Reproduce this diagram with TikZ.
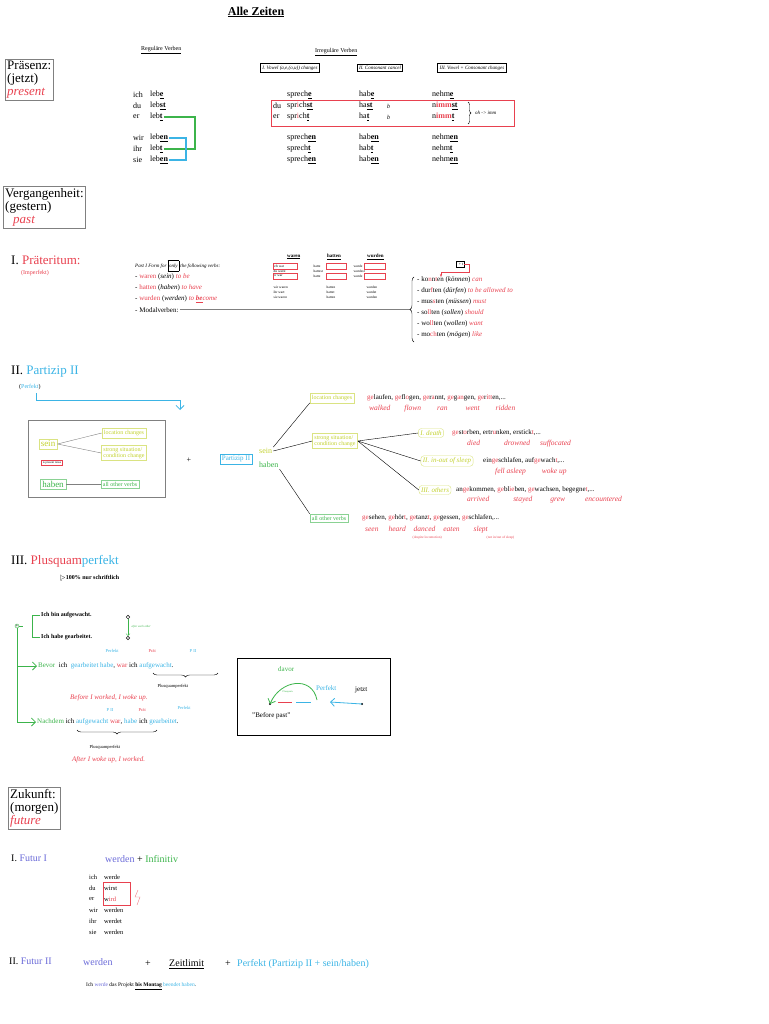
\documentclass[tikz,border=0pt]{standalone}
\usepackage{fontspec}
\setmainfont{Liberation Serif}
\usetikzlibrary{positioning,decorations.pathreplacing,arrows.meta}
\definecolor{rd}{HTML}{E8414F}
\definecolor{bl}{HTML}{3BB4E5}
\definecolor{gr}{HTML}{3CB44B}
\definecolor{lm}{HTML}{C2D12E}
\definecolor{pu}{HTML}{6A6AD8}
\newcommand{\ue}[1]{\underline{\textbf{#1}}}
\newcommand{\fs}[1]{\fontsize{#1}{#1}\selectfont}
\tikzset{
  t/.style={anchor=west, inner sep=1pt, font=\fs{8}},
  s/.style={anchor=west, inner sep=1pt, font=\fs{6}},
  ti/.style={anchor=west, inner sep=.5pt, font=\fs{3.5}},
  big/.style={anchor=west, inner sep=1pt, font=\fs{13}, align=left},
  kbox/.style={draw, line width=1pt, inner sep=2pt, font=\fs{5}\itshape},
  cbox/.style={draw, inner sep=2pt, font=\fs{6}, align=left},
  tr/.style={anchor=west, inner sep=1pt, font=\fs{7.5}\itshape, text=rd}
}
\begin{document}
\begin{tikzpicture}[x=1pt,y=-1pt]
\useasboundingbox (0,0) rectangle (768,1024);
% Title
\node[font=\fs{12}\bfseries] (title) at (256,12) {\underline{Alle Zeiten}};
% Praesenz
\node[draw=gray, big, inner sep=2pt] (praes) at (5,80) {Präsenz:\\(jetzt)\\ \textcolor{rd}{\itshape present}};
\node[s] (reg) at (140,50) {\underline{Reguläre Verben}};
\node[s] (irreg) at (314,52) {\underline{Irreguläre Verben}};
\node[kbox] (k1) at (290,68) {I. Vowel (a,e,(o,u)) changes};
\node[kbox] (k2) at (380,68) {II. Consonant cancel};
\node[kbox] (k3) at (472,68) {III. Vowel + Consonant changes};
\foreach \p/\v/\y in {ich/leb\ue{e}/95, du/leb\ue{st}/106, er/leb\ue{t}/117, wir/leb\ue{en}/138, ihr/leb\ue{t}/149, sie/leb\ue{en}/160}{
  \node[t] at (132,\y) {\p};
  \node[t] (r\p) at (149,\y) {\v};
}
\draw[gr, line width=1.2pt] (rer.east) -- (195,117) -- (195,149) -- (rihr.east);
\draw[bl, line width=1.2pt] (rwir.east) -- (186,138) -- (186,160) -- (rsie.east);
\foreach \a/\b/\c/\y/\n in {sprech\ue{e}/hab\ue{e}/nehm\ue{e}/95/1,
  spr\textcolor{rd}{i}ch\ue{st}/ha\ue{st}/n\textcolor{rd}{\textbf{imm}}\ue{st}/106/2,
  spr\textcolor{rd}{i}ch\ue{t}/ha\ue{t}/n\textcolor{rd}{\textbf{imm}}\ue{t}/117/3,
  sprech\ue{en}/hab\ue{en}/nehm\ue{en}/138/4, sprech\ue{t}/hab\ue{t}/nehm\ue{t}/149/5,
  sprech\ue{en}/hab\ue{en}/nehm\ue{en}/160/6}{
  \node[t] (ia\n) at (286,\y) {\a};
  \node[t] (ib\n) at (358,\y) {\b};
  \node[t] (ic\n) at (431,\y) {\c};
}
\node[t] (du) at (272,106) {du};
\node[t] (er) at (272,117) {er};
\node[s, font=\fs{6}\itshape] at (386,106) {b};
\node[s, font=\fs{6}\itshape] at (386,117) {b};
\draw[rd, thick] (271,100) rectangle (514,126);
\draw[decorate, decoration={brace, amplitude=3pt}] (468,102) -- (468,124);
\node[s, font=\fs{5}\itshape] (imm) at (474,113) {oh -> imm};
% Vergangenheit
\node[draw=gray, big, inner sep=2pt] (verg) at (3,207) {Vergangenheit:\\(gestern)\\ \hspace{8pt}\textcolor{rd}{\itshape past}};
% Praeteritum
\node[big] (praet) at (10,260) {I. \textcolor{rd}{Präteritum:}};
\node[s, text=rd] (imp) at (20,273) {(Imperfekt)};
\node[s, font=\fs{5}\itshape] (only) at (134,266) {Past I Form for \fbox{\kern-2pt only\kern-2pt} the following verbs:};
\node[t, font=\fs{7}] (war) at (134,277) {- \textcolor{rd}{waren} (\textit{sein}) \textcolor{rd}{\itshape to be}};
\node[t, font=\fs{7}] (hat) at (134,288) {- \textcolor{rd}{hatten} (\textit{haben}) \textcolor{rd}{\itshape to have}};
\node[t, font=\fs{7}] (wur) at (134,299) {- \textcolor{rd}{wurden} (\textit{werden}) \textcolor{rd}{\itshape to \underline{\textbf{be}}come}};
\node[t, font=\fs{7}] (mod) at (134,310) {- Modalverben:};
\foreach \h/\x/\l in {waren/286/{ich war,du warst,er war}, hatten/326/{hatte,hattest,hatte}, wurden/366/{wurde,wurdest,wurde}}{
  \node[s, font=\fs{5}\bfseries] at (\x,257) {\underline{\h}};
  \foreach \w [count=\i] in \l { \node[ti] at (\x-13,261+5*\i) {\w}; }
}
\foreach \x/\l in {273/{wir waren,ihr wart,sie waren}, 326/{hatten,hattet,hatten}, 366/{wurden,wurdet,wurden}}{
  \foreach \w [count=\i] in \l { \node[ti] at (\x,282+5*\i) {\w}; }
}
\draw[rd] (273,263) rectangle (297,269) (273,273) rectangle (297,279);
\draw[rd] (326,263) rectangle (346,269) (326,273) rectangle (346,279);
\draw[rd] (364,263) rectangle (385,269) (364,273) rectangle (385,279);
\draw[gray, double] (mod.east) -- (410,310);
\draw[decorate, decoration={brace, amplitude=4pt}] (414,342) -- (414,277);
\foreach \a/\b/\c/\y in {ko\textcolor{rd}{n}n\textcolor{rd}{t}en/können/can/280, dur\textcolor{rd}{f}ten/dürfen/to be allowed to/291,
  mus\textcolor{rd}{s}ten/müssen/must/302, so\textcolor{rd}{ll}ten/sollen/should/313, wo\textcolor{rd}{ll}ten/wollen/want/324, mo\textcolor{rd}{ch}ten/mögen/like/335}{
  \node[t, font=\fs{7}] at (416,\y) {- \a\ (\textit{\b}) \textcolor{rd}{\itshape \c}};
}
\node[draw, inner sep=1pt, font=\fs{4}] (plt) at (460,264) {\textsuperscript{*}+ t};
\draw[rd, thick, -{Stealth[length=3pt]}] (plt.east) -- ++(5,0) -- ++(0,8) -- (441,272) -- (441,277);
% Partizip II
\node[big] (part) at (10,372) {II. \textcolor{bl}{Partizip II}};
\node[s] (perf) at (18,387) {(\textcolor{bl}{Perfekt})};
\draw[bl, thick, -{Straight Barb[length=4pt]}] (36,393) -- (36,400) -- (180,400) -- (180,410);
\draw[gray] (28,420) rectangle (165,497);
\node[cbox, draw=lm!60, text=lm, font=\fs{9}] (sein) at (48,444) {sein};
\node[cbox, draw=lm!60, text=lm] (lc1) at (124,433) {location changes};
\node[cbox, draw=lm!60, text=lm] (sc1) at (124,453) {strong situation/\\condition change};
\node[draw=rd, thick, inner sep=1pt, font=\fs{3}] (ipt) at (52,463) {is present tense};
\node[cbox, draw=gr!60, text=gr, font=\fs{9}] (hab1) at (53,484) {haben};
\node[cbox, draw=gr!60, text=gr] (ao1) at (120,484) {all other verbs};
\draw[gray] (sein.east) -- (lc1.west) (sein.east) -- (sc1.west);
\draw[gray] (hab1) -- (ao1);
\node[font=\fs{8}] (plus1) at (189,460) {+};
\node[cbox, draw=bl, thick, text=bl, font=\fs{7}] (p2) at (236,459) {Partizip II};
\node[t, text=lm] (sein2) at (258,451) {sein};
\node[t, text=gr] (hab2) at (258,465) {haben};
\node[cbox, draw=lm!60, text=lm] (lc2) at (332,398) {location changes};
\node[cbox, draw=lm!60, text=lm] (sc2) at (335,441) {strong situation/\\condition change};
\node[cbox, draw=gr!60, text=gr] (ao2) at (329,518) {all other verbs};
\draw (sein2.north east) -- (lc2.south west);
\draw (sein2.east) -- (sc2.west);
\draw (hab2.south east) -- (ao2.north west);
\node[cbox, draw=lm!60, text=lm, rounded corners=3pt, font=\fs{7}\itshape] (dth) at (431,433) {I. death};
\node[cbox, draw=lm!60, text=lm, rounded corners=3pt, font=\fs{7}\itshape] (slp) at (447,461) {II. in-out of sleep};
\node[cbox, draw=lm!60, text=lm, rounded corners=3pt, font=\fs{7}\itshape] (oth) at (435,490) {III. others};
\draw (sc2.east) -- (dth.west) (sc2.east) -- (slp.west) (sc2.east) -- (oth.west);
\node[t, font=\fs{7}] (w1) at (366,398) {\textcolor{rd}{ge}laufen, \textcolor{rd}{ge}fl\textcolor{rd}{o}gen, \textcolor{rd}{ge}r\textcolor{rd}{a}nnt, \textcolor{rd}{ge}g\textcolor{rd}{an}gen, \textcolor{rd}{ge}r\textcolor{rd}{itt}en,...};
\node[tr] at (368,409) {walked\hspace{14pt}flown\hspace{16pt}ran\hspace{18pt}went\hspace{16pt}ridden};
\node[t, font=\fs{7}] (w2) at (451,433) {\textcolor{rd}{ge}st\textcolor{rd}{o}rben, ertr\textcolor{rd}{u}nken, erstick\textcolor{rd}{t},...};
\node[tr] at (466,444) {died\hspace{24pt}drowned\hspace{10pt}suffocated};
\node[t, font=\fs{7}] (w3) at (482,461) {ein\textcolor{rd}{ge}schlafen, auf\textcolor{rd}{ge}wach\textcolor{rd}{t},...};
\node[tr] at (494,472) {fell asleep\hspace{16pt}woke up};
\node[t, font=\fs{7}] (w4) at (455,490) {an\textcolor{rd}{ge}kommen, \textcolor{rd}{ge}bl\textcolor{rd}{ie}ben, \textcolor{rd}{ge}wachsen, begegne\textcolor{rd}{t},...};
\node[tr] at (466,500) {arrived\hspace{24pt}stayed\hspace{18pt}grew\hspace{20pt}encountered};
\node[t, font=\fs{7}] (w5) at (361,518) {\textcolor{rd}{ge}sehen, \textcolor{rd}{ge}hör\textcolor{rd}{t}, \textcolor{rd}{ge}tanz\textcolor{rd}{t}, \textcolor{rd}{ge}gessen, \textcolor{rd}{ge}schlafen,...};
\node[tr] at (364,530) {seen\hspace{10pt}heard\hspace{8pt}danced\hspace{8pt}eaten\hspace{14pt}slept};
\node[ti, text=rd] at (412,538) {(despite locomotion)};
\node[ti, text=rd] at (486,538) {(not in/out of sleep)};
% Plusquamperfekt
\node[big] (plq) at (10,561) {III. \textcolor{rd}{Plusquam}\textcolor{bl}{perfekt}};
\node[s, font=\fs{6}\bfseries] (schr) at (58,578) {\textmd{$\lfloor\!\!>$}100\% nur schriftlich};
\node[s, font=\fs{6}\bfseries] (bin) at (40,615) {Ich bin aufgewacht.};
\node[s, font=\fs{6}\bfseries] (habe) at (40,637) {Ich habe gearbeitet.};
\node[draw, circle, inner sep=.5pt, font=\fs{3}] (c1) at (128,617) {1};
\node[draw, circle, inner sep=.5pt, font=\fs{3}] (c2) at (128,638) {2};
\draw[gr, -{Straight Barb[length=2pt]}] (c1) -- (c2);
\node[ti, text=gr, font=\fs{3}\itshape] at (131,627) {after each other};
\node[draw=gr, circle, inner sep=0pt, font=\fs{5}] (pl) at (17,626) {+};
\draw[gr] (bin.west) -- ++(-8,0) |- (habe.west);
\draw[gr] (pl.east) -- (23,626);
\node[s, font=\fs{7}] (bev) at (37,666) {\textcolor{gr}{Bevor}\ \ ich\ \ \textcolor{bl}{gearbeitet habe}, \textcolor{rd}{war} ich \textcolor{bl}{aufgewacht}.};
\node[s, font=\fs{7}] (nach) at (36,722) {\textcolor{gr}{Nachdem} ich \textcolor{bl}{aufgewacht} \textcolor{rd}{war}, \textcolor{bl}{habe} ich \textcolor{bl}{gearbeitet}.};
\draw[gr, thick, -{Straight Barb[length=4pt]}] (pl.south) -- (17,722) -- (nach.west);
\draw[gr, thick, -{Straight Barb[length=4pt]}] (17,666) -- (bev.west);
\foreach \x/\y/\l/\c in {105/651/Perfekt/bl, 148/651/Prät/rd, 189/651/P II/bl, 106/710/P II/bl, 138/710/Prät/rd, 177/708/Perfekt/bl}{
  \node[ti, font=\fs{4.5}, text=\c] at (\x,\y) {\l};
}
\draw[decorate, decoration={brace, amplitude=4pt, mirror}] (153,673) -- (218,673);
\node[ti, font=\fs{4.5}] (pq1) at (157,686) {Plusquamperfekt};
\node[s, font=\fs{7}\itshape, text=rd] (bw) at (69,698) {Before I worked, I woke up.};
\draw[decorate, decoration={brace, amplitude=4pt, mirror}] (77,730) -- (157,730);
\node[ti, font=\fs{4.5}] (pq2) at (89,747) {Plusquamperfekt};
\node[s, font=\fs{7}\itshape, text=rd] (aw) at (71,760) {After I woke up, I worked.};
% Timeline box
\draw[line width=1pt] (237,658) rectangle (390,735);
\node[s, font=\fs{7}, text=gr] (dav) at (277,669) {davor};
\node[s, font=\fs{7}, text=bl] (pk) at (315,688) {Perfekt};
\node[s, font=\fs{7}] (jz) at (354,690) {jetzt};
\node[ti, font=\fs{2.5}, text=gr] (pqs) at (282,692) {Plusquam.};
\fill (270,704) circle (1.2pt) coordinate (dp);
\fill (362,704) circle (1.2pt) coordinate (dn);
\draw[rd, thick] (278,702) -- (292,702);
\draw[bl, thick] (296,702) -- (311,702);
\draw[gr, thick, -{Straight Barb[length=4pt]}] (317,700) .. controls (312,675) and (280,680) .. (dp);
\draw[bl, thick, -{Straight Barb[length=4pt]}] (dn) -- (330,702);
\node[s, font=\fs{7}] (bp) at (251,716) {"Before past"};
% Zukunft
\node[draw=gray, big, inner sep=2pt] (zuk) at (8,808) {Zukunft:\\(morgen)\\ \textcolor{rd}{\itshape future}};
\node[big, font=\fs{10}] (f1) at (10,858) {I. \textcolor{pu}{Futur I}};
\node[big, font=\fs{10}] (wi) at (104,859) {\textcolor{pu}{werden} + \textcolor{gr}{Infinitiv}};
\foreach \p/\v/\y in {ich/werde/877, du/wirst/888, er/w\textcolor{rd}{ird}/899, wir/werden/910, ihr/werdet/921, sie/werden/932}{
  \node[s, font=\fs{6.5}] at (88,\y) {\p};
  \node[s, font=\fs{6.5}] (f\p) at (103,\y) {\v};
}
\draw[rd] (103,882) rectangle (130,905);
\draw[rd!70] (138,890) -- (135,897) -- (140,897) -- (137,905);
\node[big, font=\fs{10}] (f2) at (8,961) {II. \textcolor{pu}{Futur II}};
\node[big, font=\fs{10}, text=pu] (wd) at (82,962) {werden};
\node[big, font=\fs{10}] (pl2) at (144,964) {+};
\node[big, font=\fs{10}] (zl) at (168,964) {\underline{Zeitlimit}};
\node[big, font=\fs{10}] (pl3) at (224,964) {+};
\node[big, font=\fs{10}, text=bl] (pf) at (236,964) {Perfekt (Partizip II + sein/haben)};
\node[s, font=\fs{5.5}] (ex) at (85,986) {Ich \textcolor{pu}{werde} das Projekt \underline{\textbf{bis Montag}} \textcolor{bl}{beendet haben}.};
\end{tikzpicture}
\end{document}
